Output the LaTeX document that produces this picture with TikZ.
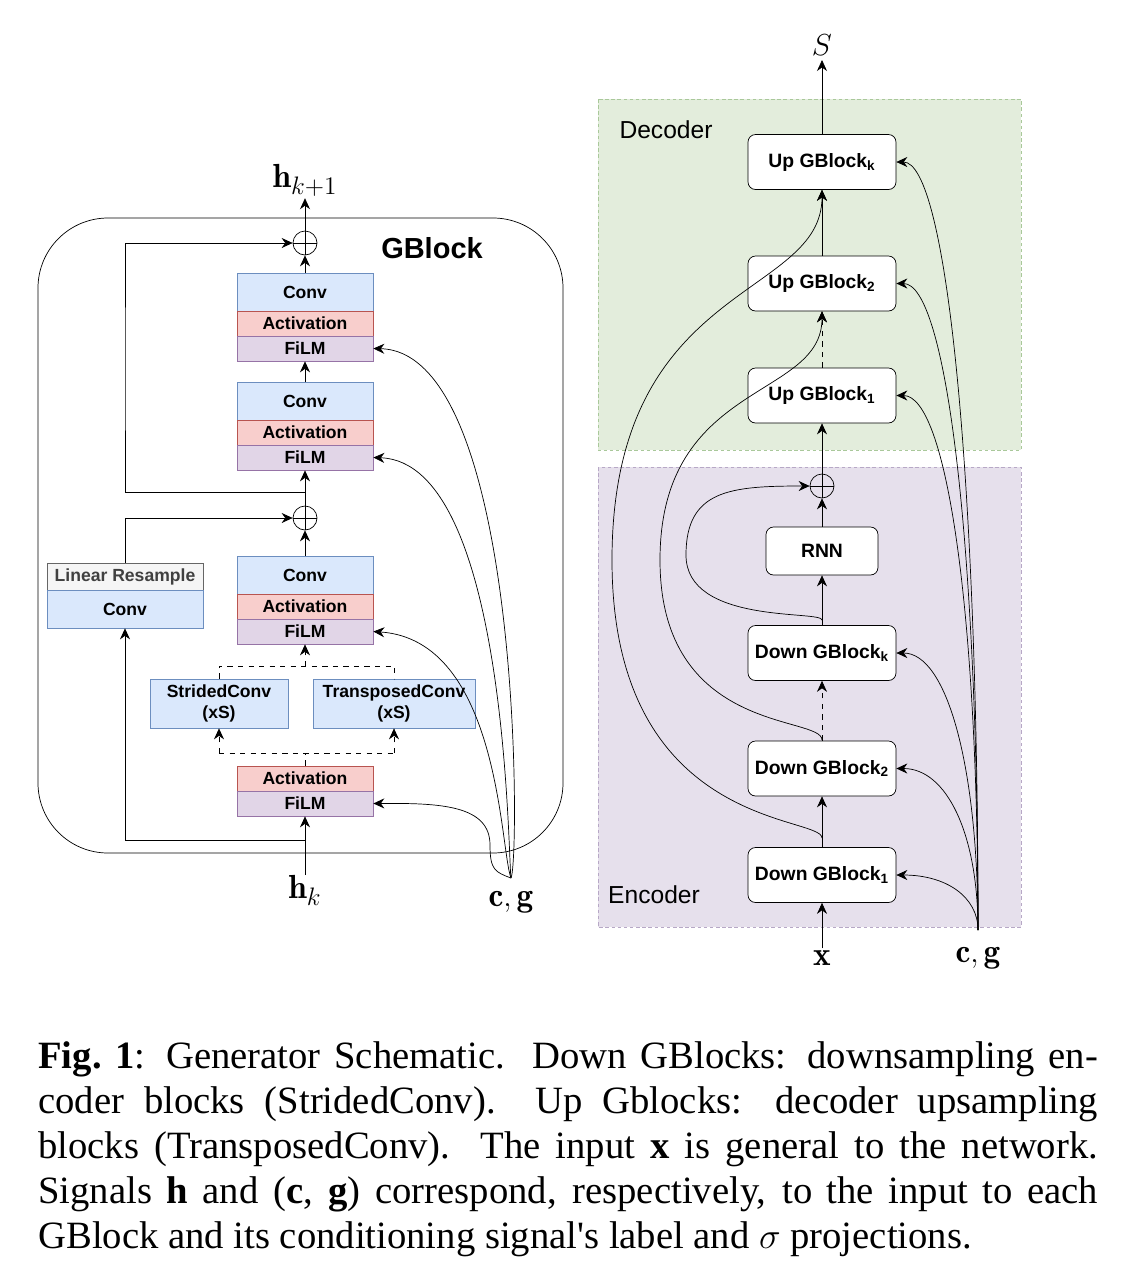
\documentclass[tikz,border=0pt]{standalone}
\usepackage{amsmath,amssymb}
\usepackage{fontspec}
\setsansfont{Liberation Sans}
\newfontfamily\capfont{Liberation Serif}
\usepackage{xcolor}
\usetikzlibrary{arrows,arrows.meta,positioning,calc}
\definecolor{convf}{HTML}{DAE8FC}\definecolor{convd}{HTML}{6C8EBF}
\definecolor{actf}{HTML}{F8CECC}\definecolor{actd}{HTML}{B85450}
\definecolor{filmf}{HTML}{E1D5E7}\definecolor{filmd}{HTML}{9673A6}
\definecolor{lrf}{HTML}{F5F5F5}\definecolor{lrd}{HTML}{666666}
\definecolor{decf}{HTML}{E3EDDC}\definecolor{decd}{HTML}{A9C89A}
\definecolor{encf}{HTML}{E6E0EC}\definecolor{encd}{HTML}{B7A8C6}
\begin{document}
\begin{tikzpicture}[x=0.02cm, y=-0.02cm,
  lab/.style={font=\sffamily\bfseries\fontsize{10}{12}\selectfont, inner sep=0pt, align=center},
  conv/.style={lab, rectangle, draw=convd, fill=convf, minimum width=2.72cm, minimum height=0.76cm},
  act/.style={lab, rectangle, draw=actd, fill=actf, minimum width=2.72cm, minimum height=0.5cm},
  film/.style={lab, rectangle, draw=filmd, fill=filmf, minimum width=2.72cm, minimum height=0.5cm},
  block/.style={lab, font=\sffamily\bfseries\fontsize{11}{13}\selectfont, rectangle, rounded corners=0.15cm, draw, fill=white, minimum width=2.96cm, minimum height=1.1cm},
  plus/.style={circle, draw, minimum size=0.48cm, inner sep=0pt, path picture={
      \draw (path picture bounding box.north) -- (path picture bounding box.south)
            (path picture bounding box.west) -- (path picture bounding box.east);}},
  arrow/.style={-{Stealth[length=2.2mm,width=2mm]}},
  darrow/.style={-{Stealth[length=2.2mm,width=2mm]}, dashed},
  sig/.style={font=\fontsize{19}{21}\selectfont, inner sep=1pt}
]
\useasboundingbox (0,0) rectangle (1132,1286);

% ---------------- GBlock (left) ----------------
\draw[rounded corners=1.4cm] (38,218) rectangle (563,853);
\node[font=\sffamily\bfseries\fontsize{16.5}{18}\selectfont] (gbl) at (432,248) {GBlock};

% upper stack
\node[conv] (conv1) at (305,292) {Conv};
\node[act] (act1) at (305,323.5) {Activation};
\node[film] (film1) at (305,348.5) {FiLM};
\node[conv] (conv2) at (305,401) {Conv};
\node[act] (act2) at (305,432.5) {Activation};
\node[film] (film2) at (305,457.5) {FiLM};
\node[conv] (conv3) at (305,575) {Conv};
\node[act] (act3) at (305,606.5) {Activation};
\node[film] (film3) at (305,631.5) {FiLM};
\node[act] (act4) at (305,778.5) {Activation};
\node[film] (film4) at (305,803.5) {FiLM};

% resampling
\node[conv, minimum width=2.76cm, minimum height=0.98cm] (strided) at (219,703.5) {StridedConv\\(xS)};
\node[conv, minimum width=3.24cm, minimum height=0.98cm] (transp) at (394,703.5) {TransposedConv\\(xS)};
\node[lab, rectangle, draw=lrd, fill=lrf, text=black!75, minimum width=3.12cm, minimum height=0.54cm] (lres) at (125,576.5) {Linear Resample};
\node[conv, minimum width=3.12cm] (lconv) at (125,609) {Conv};

\node[plus] (plus1) at (305,243) {};
\node[plus] (plus2) at (305,518) {};

\node[sig] (hout) at (305,180) {$\mathbf{h}_{k+1}$};
\node[sig] (hin) at (305,890) {$\mathbf{h}_{k}$};
\node[sig] (cg) at (511,902) {$\mathbf{c},\mathbf{g}$};
\coordinate (cgtop) at (511,878);
\coordinate (hbot) at (305,875);

% main path
\draw[arrow] (hbot) -- (film4);
\draw[arrow] (plus1) -- (hout);
\draw[arrow] (conv1) -- (plus1);
\draw[arrow] (film1.south |- conv2.north) -- (film1);
\draw[arrow] (plus2) -- (film2);
\draw[arrow] (conv3) -- (plus2);

% dashed fork
\coordinate (dlow) at (305,753);
\coordinate (dhigh) at (305,666);
\draw[dashed] (act4) -- (dlow) (strided.south |- dlow) -- (transp.south |- dlow);
\draw[darrow] (strided.south |- dlow) -- (strided);
\draw[darrow] (transp.south |- dlow) -- (transp);
\draw[dashed] (strided) -- (strided.north |- dhigh) -- (transp.north |- dhigh) -- (transp);
\draw[darrow] (dhigh) -- (film3);

% skips
\draw[arrow] (305,840) -| (lconv);
\draw[arrow] (lres) |- (plus2);
\draw[arrow] (305,492) -| (125,370) |- (plus1);

% conditioning
\draw[arrow] (cgtop) .. controls (495,872) and (490,870) .. (490,845)
  .. controls (490,805) and (440,803) .. (film4.east);
\draw[arrow] (cgtop) .. controls (500,850) and (500,640) .. (film3.east);
\draw[arrow] (cgtop) .. controls (508,860) and (508,462) .. (film2.east);
\draw[arrow] (cgtop) .. controls (520,860) and (522,352) .. (film1.east);

% ---------------- Encoder / Decoder (right) ----------------
\draw[decd, dashed, fill=decf, dash pattern=on 2pt off 1.5pt] (598,99) rectangle (1021,450);
\draw[encd, dashed, fill=encf, dash pattern=on 2pt off 1.5pt] (598,467) rectangle (1021,927);
\node[font=\sffamily\fontsize{14}{16}\selectfont] (dec) at (666,130) {Decoder};
\node[font=\sffamily\fontsize{14}{16}\selectfont] (enc) at (654,895) {Encoder};

\node[block] (upk) at (822,162) {Up GBlock\textsubscript{k}};
\node[block] (up2) at (822,283.5) {Up GBlock\textsubscript{2}};
\node[block] (up1) at (822,395.5) {Up GBlock\textsubscript{1}};
\node[block, minimum width=2.24cm, minimum height=0.96cm] (rnn) at (822,551) {RNN};
\node[block] (downk) at (822,653) {Down GBlock\textsubscript{k}};
\node[block] (down2) at (822,768.5) {Down GBlock\textsubscript{2}};
\node[block] (down1) at (822,875) {Down GBlock\textsubscript{1}};
\node[plus] (plus3) at (822,486) {};

\node[sig] (sout) at (822,45) {$S$};
\node[sig] (xin) at (822,958) {$\mathbf{x}$};
\node[sig] (cg2) at (978,958) {$\mathbf{c},\mathbf{g}$};
\coordinate (cg2top) at (978,930);

\draw[arrow] (xin) -- (down1);
\draw[arrow] (down1) -- (down2);
\draw[darrow] (down2) -- (downk);
\draw[arrow] (downk) -- (rnn);
\draw[arrow] (rnn) -- (plus3);
\draw[arrow] (plus3) -- (up1);
\draw[darrow] (up1) -- (up2);
\draw[arrow] (up2) -- (upk);
\draw[arrow] (upk) -- (822,60);

% long skips
\draw[arrow] (822,838) .. controls (822,815) and (612,830) .. (612,560)
  .. controls (612,280) and (822,300) .. (upk.south);
\draw[arrow] (822,740) .. controls (822,715) and (660,735) .. (660,560)
  .. controls (660,380) and (822,400) .. (up2.south);
\draw[arrow] (822,620) .. controls (822,610) and (686,625) .. (686,555)
  .. controls (686,490) and (730,486) .. (plus3.west);

% conditioning
\foreach \b in {down1,down2,downk,up1,up2,upk}
  \draw[arrow] (cg2top) .. controls ($(cg2top)!0.6!(cg2top|-\b.east)$)
    and ($(\b.east)+(50,0)$) .. (\b.east);

% ---------------- caption ----------------
\begin{scope}[every node/.style={anchor=base west, inner sep=0pt, font=\capfont\fontsize{22}{26}\selectfont}]
\node (cap1) at (38,1068) {\makebox[21.2cm][s]{\textbf{Fig.~1}: Generator Schematic.\ \ Down GBlocks: downsampling en-}};
\node (cap2) at (38,1113) {\makebox[21.2cm][s]{coder blocks (StridedConv).\ \ Up Gblocks: decoder upsampling}};
\node (cap3) at (38,1158) {\makebox[21.2cm][s]{blocks (TransposedConv).\ \ The input \textbf{x} is general to the network.}};
\node (cap4) at (38,1203) {\makebox[21.2cm][s]{Signals \textbf{h} and (\textbf{c}, \textbf{g}) correspond, respectively, to the input to each}};
\node (cap5) at (38,1248) {GBlock and its conditioning signal's label and $\sigma$ projections.};
\end{scope}
\end{tikzpicture}
\end{document}
